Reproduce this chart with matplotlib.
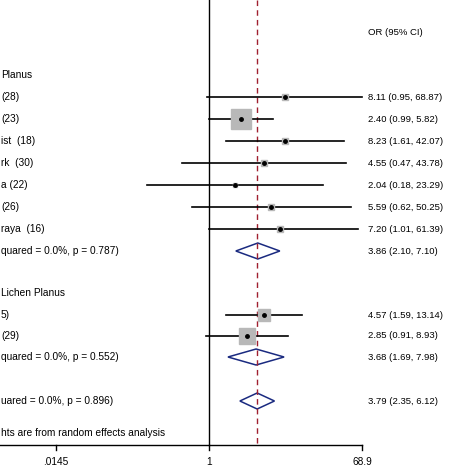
import matplotlib
matplotlib.use("Agg")
import matplotlib.pyplot as plt
import numpy as np

plt.rcParams['font.family'] = ['Liberation Sans', 'DejaVu Sans']

labels = ["(28)", "(23)", "ist  (18)", "rk  (30)", "a (22)", "(26)", "raya  (16)",
          "5)", "(29)"]
ors = [8.11, 2.40, 8.23, 4.55, 2.04, 5.59, 7.20, 4.57, 2.85]
lo = [0.95, 0.99, 1.61, 0.47, 0.18, 0.62, 1.01, 1.59, 0.91]
hi = [68.87, 5.82, 42.07, 43.78, 23.29, 50.25, 61.39, 13.14, 8.93]
weights = [4, 14, 5, 4, 3, 4, 4, 9, 11]
rows = [97, 119, 141, 163, 185, 207, 229, 315, 336]

sub_or = [3.86, 3.68, 3.79]
sub_lo = [2.10, 1.69, 2.35]
sub_hi = [7.10, 7.98, 6.12]
sub_rows = [251, 357, 401]
sub_labels = ["quared = 0.0%, p = 0.787)", "quared = 0.0%, p = 0.552)", "uared = 0.0%, p = 0.896)"]

xlo, xhi = 0.0145, 68.9
k = 153 / np.log(1 / xlo)
def px2v(p):
    return np.exp((p - 209) / k)

fig = plt.figure(figsize=(4.74, 4.74), dpi=100)
ax = fig.add_axes([0, 0, 1, 1])
ax.set_xscale('log')
ax.set_xlim(px2v(0), px2v(474))
ax.set_ylim(474, 0)
ax.axis('off')

fs = 7.3
x0 = px2v(1)
ax.plot([1, 1], [0, 445], color='black', lw=1)
ax.plot([px2v(0), xhi], [445, 445], color='black', lw=1)
for t, s in zip([xlo, 1, xhi], [".0145", "1", "68.9"]):
    ax.plot([t, t], [445, 450], color='black', lw=1)
    ax.text(t, 462, s, ha='center', va='center', fontsize=fs)
ax.plot([3.79, 3.79], [0, 445], color='#a02030', lw=1, ls=(0, (4, 3)))

ax.text(px2v(368), 32, "OR (95% CI)", ha='left', va='center', fontsize=fs - 0.5)
ax.text(x0, 75, "Planus", ha='left', va='center', fontsize=fs)
ax.text(x0, 293, "Lichen Planus", ha='left', va='center', fontsize=fs)
ax.text(x0, 433, "hts are from random effects analysis", ha='left', va='center', fontsize=fs)

for lab, o, l, h, w, y in zip(labels, ors, lo, hi, weights, rows):
    ax.text(x0, y, lab, ha='left', va='center', fontsize=fs)
    if h > xhi:
        ax.annotate("", xy=(xhi * 1.02, y), xytext=(l, y),
                    arrowprops=dict(arrowstyle='->', lw=1.2, color='black', mutation_scale=18))
    else:
        ax.plot([l, h], [y, y], color='black', lw=1.2)
    ax.plot(o, y, marker='s', ms=w, mfc='#b8b8b8', mec='#b8b8b8', ls='none')
    ax.plot(o, y, marker='o', ms=2.5, color='black', ls='none')
    ax.text(px2v(368), y, f"{o:.2f} ({l:.2f}, {h:.2f})", ha='left', va='center', fontsize=fs - 0.5)

for lab, o, l, h, y in zip(sub_labels, sub_or, sub_lo, sub_hi, sub_rows):
    ax.text(x0, y, lab, ha='left', va='center', fontsize=fs)
    ax.fill([l, o, h, o, l], [y, y - 8, y, y + 8, y], facecolor='white', edgecolor='#1a2a80', lw=1.1)
    ax.text(px2v(368), y, f"{o:.2f} ({l:.2f}, {h:.2f})", ha='left', va='center', fontsize=fs - 0.5)

fig.savefig("out.png", dpi=100)
